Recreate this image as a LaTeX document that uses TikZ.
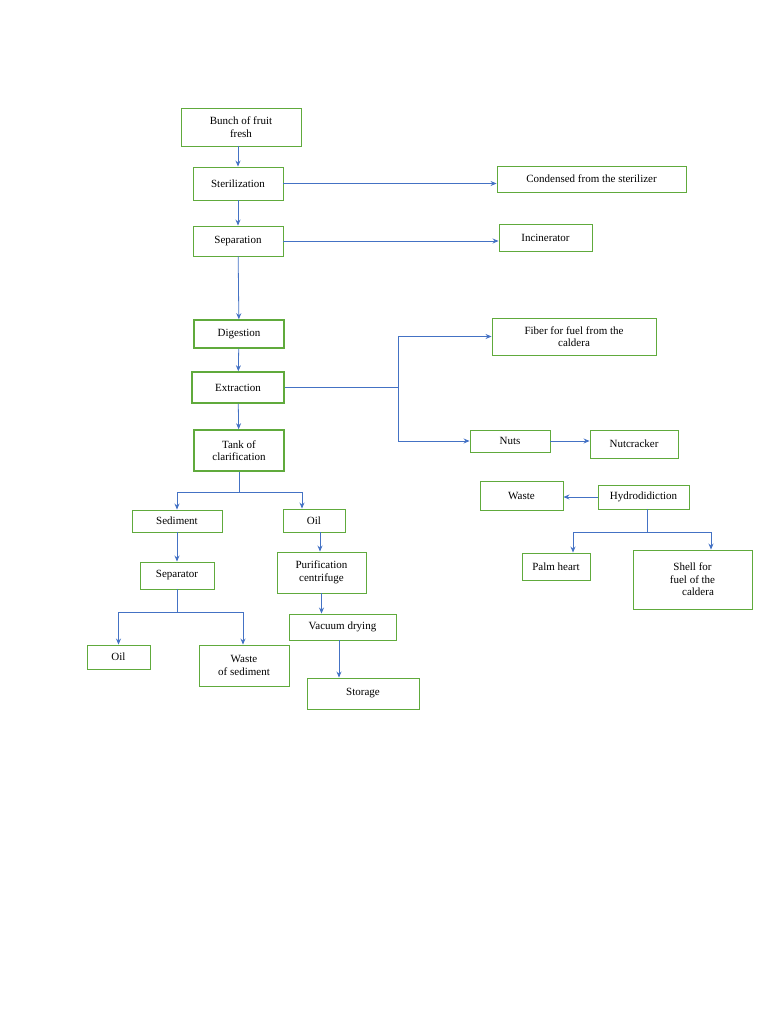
\documentclass[tikz,border=0pt]{standalone}
\usepackage{fontspec}
\setmainfont{Liberation Serif}
\usetikzlibrary{arrows.meta}
\definecolor{boxgreen}{RGB}{96,170,60}
\definecolor{lineblue}{RGB}{68,114,196}
\begin{document}
\begin{tikzpicture}[x=1pt,y=-1pt,
  stage/.style={draw=boxgreen,line width=0.9pt,align=center,inner sep=1pt,font=\fontsize{11}{12.5}\selectfont},
  stageT/.style={stage,line width=1.5pt},
  flow/.style={draw=lineblue,line width=0.8pt,-{Stealth[length=6pt,width=5pt]}},
  link/.style={draw=lineblue,line width=0.8pt}]
\useasboundingbox (0,0) rectangle (768,1024);

% main line
\node[stage,minimum width=120,minimum height=38] (bunch) at (241,127) {Bunch of fruit\\ fresh};
\node[stage,minimum width=90,minimum height=33] (steril) at (238,183.5) {Sterilization};
\node[stage,minimum width=90,minimum height=30] (separ) at (238,241) {Separation};
\node[stageT,minimum width=90,minimum height=28] (digest) at (239,334) {Digestion};
\node[stageT,minimum width=92,minimum height=31] (extract) at (238,387.5) {Extraction};
\node[stageT,minimum width=90,minimum height=41] (tank) at (239,450.5) {Tank of\\ clarification};

% by-products
\node[stage,minimum width=189,minimum height=26] (cond) at (591.5,179) {Condensed from the sterilizer};
\node[stage,minimum width=93,minimum height=27] (incin) at (545.5,237.5) {Incinerator};
\node[stage,minimum width=164,minimum height=37] (fiber) at (574,336.5) {Fiber for fuel from the\\ caldera};
\node[stage,minimum width=80,minimum height=22] (nuts) at (510,441) {Nuts};
\node[stage,minimum width=88,minimum height=28] (crack) at (634,444) {Nutcracker};
\node[stage,minimum width=83,minimum height=29] (waste) at (521.5,495.5) {Waste};
\node[stage,minimum width=91,minimum height=24] (hydro) at (643.5,497) {Hydrodidiction};
\node[stage,minimum width=68,minimum height=27] (palm) at (556,566.5) {Palm heart};
\node[stage,minimum width=119,minimum height=59] (shell) at (692.5,579.5) {Shell for\\ fuel of the\\ \quad caldera};

% oil branch
\node[stage,minimum width=90,minimum height=22] (sedim) at (177,521) {Sediment};
\node[stage,minimum width=62,minimum height=23] (oilA) at (314,520.5) {Oil};
\node[stage,minimum width=74,minimum height=27] (sepr) at (177,575.5) {Separator};
\node[stage,minimum width=89,minimum height=41] (purif) at (321.5,572.5) {Purification\\ centrifuge};
\node[stage,minimum width=107,minimum height=26] (vacuum) at (342.5,627) {Vacuum drying};
\node[stage,minimum width=63,minimum height=24] (oilB) at (118.5,657) {Oil};
\node[stage,minimum width=90,minimum height=41] (wsed) at (244,665.5) {Waste\\ of sediment};
\node[stage,minimum width=112,minimum height=31] (store) at (363,693.5) {Storage};

\coordinate (ex) at (398,387.5);
\coordinate (tk) at (239,492);
\coordinate (sp) at (177,612);
\coordinate (hy) at (647,532);
\coordinate (ws) at (243,0);
\coordinate (st) at (339,0);
\coordinate (pm) at (573,0);
\coordinate (sh) at (711,0);
\coordinate (ol) at (302,0);

\draw[flow] (bunch.south -| steril) -- (steril.north);
\draw[flow] (steril) -- (separ);
\draw[flow] (separ) -- (digest);
\draw[flow] (digest) -- (extract);
\draw[flow] (extract) -- (tank);
\draw[flow] (steril.east) -- (steril.east -| cond.west);
\draw[flow] (separ.east) -- (separ.east -| incin.west);
\draw[link] (extract.east) -- (ex);
\draw[flow] (ex) |- (fiber.west);
\draw[flow] (ex) |- (nuts.west);
\draw[flow] (nuts) -- (nuts -| crack.west);
\draw[link] (tank) -- (tk);
\draw[flow] (tk) -| (sedim.north);
\draw[flow] (tk) -| (oilA.north -| ol);
\draw[flow] (sedim) -- (sepr);
\draw[link] (sepr) -- (sp);
\draw[flow] (sp) -| (oilB.north);
\draw[flow] (sp) -| (wsed.north -| ws);
\draw[flow] ([xshift=6]oilA.south) -- ([xshift=-1.5]purif.north);
\draw[flow] (purif.south) -- (purif.south |- vacuum.north);
\draw[flow] (vacuum.south -| st) -- (store.north -| st);
\draw[flow] (hydro.west) -- (hydro.west -| waste.east);
\draw[link] (hydro.south -| hy) -- (hy);
\draw[flow] (hy) -| (palm.north -| pm);
\draw[flow] (hy) -| (shell.north -| sh);
\end{tikzpicture}
\end{document}
